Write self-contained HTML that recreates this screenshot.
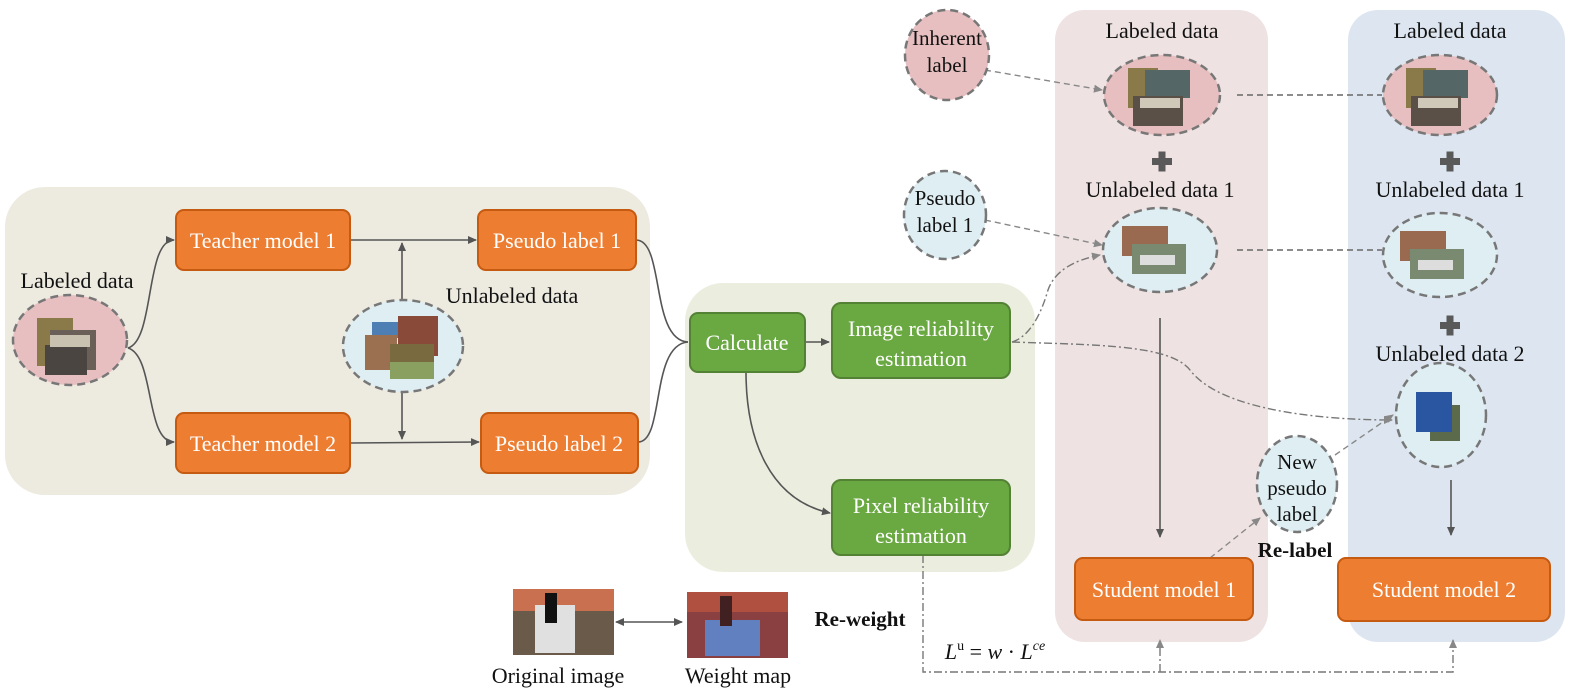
<!DOCTYPE html>
<html><head><meta charset="utf-8"><style>
html,body{margin:0;padding:0;background:#fff;}
svg{display:block;font-family:"Liberation Serif",serif;}
</style></head><body>
<svg width="1578" height="699" viewBox="0 0 1578 699" xmlns="http://www.w3.org/2000/svg">
<defs>
<marker id="a" markerWidth="10" markerHeight="10" refX="8" refY="5" orient="auto-start-reverse" markerUnits="userSpaceOnUse"><path d="M0,1 L9,5 L0,9 z" fill="#555"/></marker>
<marker id="b" markerWidth="10" markerHeight="10" refX="8" refY="5" orient="auto" markerUnits="userSpaceOnUse"><path d="M0,1 L9,5 L0,9 z" fill="#888"/></marker>
</defs>
<rect x="5" y="187" width="645" height="308" rx="40" fill="#edeae0"/>
<rect x="685" y="283" width="350" height="289" rx="38" fill="#ebeedf"/>
<rect x="1055" y="10" width="213" height="632" rx="30" fill="#eee2e2"/>
<rect x="1348" y="10" width="217" height="632" rx="30" fill="#dde6f0"/>

<g stroke="#555" stroke-width="1.6" fill="none">
<path d="M128,348 C155,340 145,240 174,240" marker-end="url(#a)"/>
<path d="M128,348 C155,356 145,442 174,442" marker-end="url(#a)"/>
<path d="M350,240 L476,240" marker-end="url(#a)"/>
<path d="M350,443 L479,442" marker-end="url(#a)"/>
<path d="M402,300 L402,243" marker-end="url(#a)"/>
<path d="M402,392 L402,439" marker-end="url(#a)"/>
<path d="M636,240 C665,240 650,340 688,342"/>
<path d="M638,442 C665,442 650,345 688,342"/>
<path d="M805,342 L829,342" marker-end="url(#a)"/>
<path d="M746,372 C746,440 770,500 830,513" marker-end="url(#a)"/>
<path d="M1160,318 L1160,537" marker-end="url(#a)"/>
<path d="M1451,480 L1451,535" marker-end="url(#a)"/>
<path d="M616,622 L682,622" marker-end="url(#a)" marker-start="url(#a)"/>
</g>
<g stroke="#888" stroke-width="1.4" fill="none" stroke-dasharray="6,4">
<path d="M985,70 L1102,90" marker-end="url(#b)"/>
<path d="M985,220 L1102,245" marker-end="url(#b)"/>
<path d="M1237,95 L1382,95" stroke="#666"/>
<path d="M1237,250 L1382,250" stroke="#666"/>
<path d="M1210,558 L1260,518" marker-end="url(#b)"/>
<path d="M1335,455 L1393,415" marker-end="url(#b)"/>
</g>
<g stroke="#777" stroke-width="1.4" fill="none" stroke-dasharray="8,3,2,3">
<path d="M1012,342 C1035,335 1045,300 1048,290 C1055,270 1075,260 1100,255" marker-end="url(#b)"/>
<path d="M1012,342 C1100,345 1170,345 1190,370 C1220,410 1320,420 1392,420" marker-end="url(#b)"/>
<path d="M923,555 L923,672 L1453,672 L1453,640" marker-end="url(#b)"/>
<path d="M1160,672 L1160,640" marker-end="url(#b)"/>
</g>

<g stroke="#777" stroke-width="2.5" stroke-dasharray="8,5">
<ellipse cx="70" cy="340" rx="57" ry="45" fill="#e7bfc0"/>
<ellipse cx="403" cy="346" rx="60" ry="46" fill="#deeef3"/>
<ellipse cx="947" cy="55" rx="42" ry="45" fill="#e7bfc0"/>
<ellipse cx="945" cy="215" rx="41" ry="44" fill="#deeef3"/>
<ellipse cx="1162" cy="95" rx="58" ry="40" fill="#e7bfc0"/>
<ellipse cx="1160" cy="250" rx="57" ry="42" fill="#deeef3"/>
<ellipse cx="1440" cy="95" rx="57" ry="40" fill="#e7bfc0"/>
<ellipse cx="1440" cy="255" rx="57" ry="42" fill="#deeef3"/>
<ellipse cx="1441" cy="415" rx="45" ry="52" fill="#deeef3"/>
<ellipse cx="1297" cy="484" rx="40" ry="48" fill="#deeef3"/>
</g>
<g>
<rect x="37" y="318" width="36" height="48" fill="#8a7a4a"/><rect x="50" y="330" width="46" height="40" fill="#6b6058"/><rect x="45" y="345" width="42" height="30" fill="#4a4540"/><rect x="50" y="335" width="40" height="12" fill="#c9c2b0"/>
<rect x="372" y="322" width="26" height="16" fill="#4d7fb5"/><rect x="398" y="316" width="40" height="40" fill="#8a4a3a"/><rect x="365" y="335" width="32" height="35" fill="#9a7050"/><rect x="390" y="344" width="44" height="35" fill="#7a6a40"/><rect x="390" y="362" width="44" height="17" fill="#8aa060"/>
<rect x="1128" y="68" width="30" height="40" fill="#8a7a4a"/><rect x="1145" y="70" width="45" height="28" fill="#566"/><rect x="1133" y="96" width="50" height="30" fill="#5a5048"/><rect x="1140" y="98" width="40" height="10" fill="#d0c8b8"/>
<rect x="1406" y="68" width="30" height="40" fill="#8a7a4a"/><rect x="1423" y="70" width="45" height="28" fill="#566"/><rect x="1411" y="96" width="50" height="30" fill="#5a5048"/><rect x="1418" y="98" width="40" height="10" fill="#d0c8b8"/>
<rect x="1122" y="226" width="46" height="30" fill="#9a6a50"/><rect x="1132" y="244" width="54" height="30" fill="#7a8a70"/><rect x="1140" y="255" width="35" height="10" fill="#ddd"/>
<rect x="1400" y="231" width="46" height="30" fill="#9a6a50"/><rect x="1410" y="249" width="54" height="30" fill="#7a8a70"/><rect x="1418" y="260" width="35" height="10" fill="#ddd"/>
<rect x="1430" y="405" width="30" height="36" fill="#5a6a4a"/><rect x="1416" y="392" width="36" height="40" fill="#2a55a0"/>
<rect x="513" y="589" width="101" height="66" fill="#6a5a4a"/><rect x="513" y="589" width="101" height="22" fill="#c87050"/><rect x="535" y="605" width="40" height="48" fill="#e0e0e0"/><rect x="545" y="593" width="12" height="30" fill="#111"/>
<rect x="687" y="592" width="101" height="66" fill="#8a4040"/><rect x="687" y="592" width="101" height="20" fill="#b05040"/><rect x="705" y="620" width="55" height="36" fill="#6080c0"/><rect x="720" y="596" width="12" height="30" fill="#402020"/>
</g>

<g stroke-width="2">
<rect x="176" y="210" width="174" height="60" rx="8" fill="#ed7d31" stroke="#c55a11"/>
<rect x="478" y="210" width="158" height="60" rx="8" fill="#ed7d31" stroke="#c55a11"/>
<rect x="176" y="413" width="174" height="60" rx="8" fill="#ed7d31" stroke="#c55a11"/>
<rect x="481" y="413" width="157" height="60" rx="8" fill="#ed7d31" stroke="#c55a11"/>
<rect x="1075" y="558" width="178" height="62" rx="8" fill="#ed7d31" stroke="#c55a11"/>
<rect x="1338" y="558" width="212" height="63" rx="8" fill="#ed7d31" stroke="#c55a11"/>
<rect x="690" y="313" width="115" height="59" rx="8" fill="#6aa842" stroke="#548235"/>
<rect x="832" y="303" width="178" height="75" rx="9" fill="#6aa842" stroke="#548235"/>
<rect x="832" y="480" width="178" height="75" rx="9" fill="#6aa842" stroke="#548235"/>
</g>
<g fill="#fff" font-size="22" text-anchor="middle">
<text x="263" y="248">Teacher model 1</text>
<text x="557" y="248">Pseudo label 1</text>
<text x="263" y="451">Teacher model 2</text>
<text x="559" y="451">Pseudo label 2</text>
<text x="1164" y="597">Student model 1</text>
<text x="1444" y="597">Student model 2</text>
<text x="747" y="350">Calculate</text>
<text x="921" y="336">Image reliability</text>
<text x="921" y="366">estimation</text>
<text x="921" y="513">Pixel reliability</text>
<text x="921" y="543">estimation</text>
</g>
<g fill="#111" font-size="22" text-anchor="middle">
<text x="77" y="288">Labeled data</text>
<text x="512" y="303">Unlabeled data</text>
<text x="1162" y="38">Labeled data</text>
<text x="1160" y="197">Unlabeled data 1</text>
<text x="1450" y="38">Labeled data</text>
<text x="1450" y="197">Unlabeled data 1</text>
<text x="1450" y="361">Unlabeled data 2</text>
<text x="558" y="683">Original image</text>
<text x="738" y="683">Weight map</text>
<g font-size="21">
<text x="947" y="45">Inherent</text>
<text x="947" y="72">label</text>
<text x="945" y="205">Pseudo</text>
<text x="945" y="232">label 1</text>
<text x="1297" y="469">New</text>
<text x="1297" y="495">pseudo</text>
<text x="1297" y="521">label</text>
</g>
<text x="1295" y="557" font-weight="bold" font-size="21">Re-label</text>
<text x="860" y="626" font-weight="bold" font-size="21">Re-weight</text>
<text x="995" y="659" font-style="italic" font-size="22">L<tspan font-style="normal" font-size="14" dy="-9">u</tspan><tspan dy="9" font-style="normal"> = </tspan>w<tspan font-style="normal"> · </tspan>L<tspan font-size="14" dy="-9">ce</tspan></text>
</g>
<g fill="#595959">
<rect x="1152" y="158" width="20" height="7"/><rect x="1158.5" y="151.5" width="7" height="20"/>
<rect x="1440" y="158" width="20" height="7"/><rect x="1446.5" y="151.5" width="7" height="20"/>
<rect x="1440" y="322" width="20" height="7"/><rect x="1446.5" y="315.5" width="7" height="20"/>
</g>
</svg>
</body></html>
